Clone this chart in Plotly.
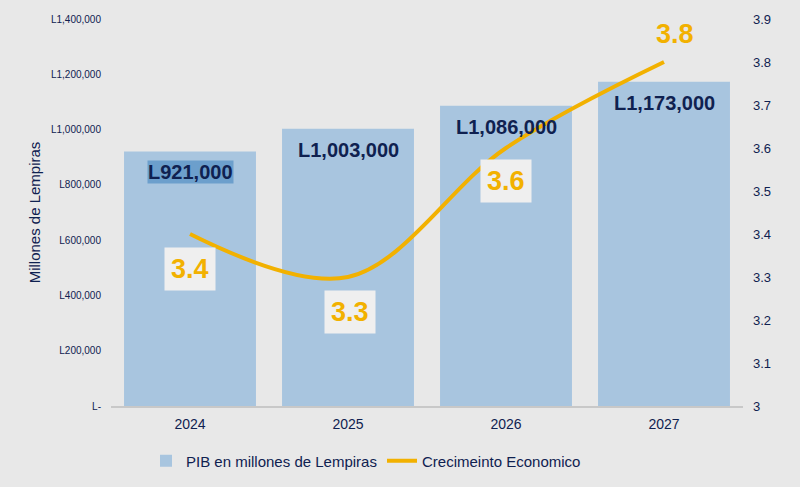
import plotly.graph_objects as go

years = ["2024", "2025", "2026", "2027"]
pib = [921000, 1003000, 1086000, 1173000]
pib_labels = ["L921,000", "L1,003,000", "L1,086,000", "L1,173,000"]
growth = [3.4, 3.3, 3.6, 3.8]
left_tickvals = [0, 200000, 400000, 600000, 800000, 1000000, 1200000, 1400000]
left_ticktext = ["L-", "L200,000", "L400,000", "L600,000", "L800,000",
                 "L1,000,000", "L1,200,000", "L1,400,000"]
right_tickvals = [3.0, 3.1, 3.2, 3.3, 3.4, 3.5, 3.6, 3.7, 3.8, 3.9]
right_ticktext = ["3", "3.1", "3.2", "3.3", "3.4", "3.5", "3.6", "3.7", "3.8", "3.9"]

NAVY = "#0f2150"
GOLD = "#f2b100"
BAR = "#a8c5df"
BG = "#e8e8e8"
FONT = "Liberation Sans, Arial, sans-serif"

fig = go.Figure()
fig.add_trace(go.Bar(x=years, y=pib, name="PIB en millones de Lempiras",
                     marker=dict(color=BAR, line=dict(width=0)), yaxis="y", legend="legend"))
fig.add_trace(go.Scatter(x=years, y=growth, name="Crecimeinto Economico",
                         mode="lines", line=dict(color=GOLD, width=4, shape="spline", smoothing=1.0),
                         yaxis="y2", legend="legend2"))

ann = []
for i, (v, lab) in enumerate(zip(pib, pib_labels)):
    a = dict(x=i, y=v, xref="x", yref="y", text="<b>" + lab + "</b>", showarrow=False,
             yshift=-21, font=dict(size=20, color=NAVY, family=FONT))
    if i == 0:
        a.update(bgcolor="#6c9fcc", borderpad=0)
    ann.append(a)

gshift = [(0, -35, True), (2, -35, True), (0, -33, True), (11, 28, False)]
for i, (g, (xs, ys, box)) in enumerate(zip(growth, gshift)):
    a = dict(x=i, y=g, xref="x", yref="y2", text="<b>" + str(g) + "</b>", showarrow=False,
             xshift=xs, yshift=ys, font=dict(size=27, color=GOLD, family=FONT))
    if box:
        a.update(bgcolor="#efefef", borderpad=6)
    ann.append(a)

leg_common = dict(orientation="h", yref="container", y=(487 - 461) / 487, yanchor="middle",
                  xref="container", xanchor="left",
                  font=dict(size=15, color=NAVY, family=FONT), bgcolor="rgba(0,0,0,0)",
                  itemwidth=30, borderwidth=0)

fig.update_layout(
    width=800, height=487,
    margin=dict(l=111, r=57, t=17, b=81),
    paper_bgcolor=BG, plot_bgcolor=BG,
    font=dict(family=FONT, color=NAVY),
    bargap=0.165,
    showlegend=True,
    legend=dict(x=146 / 800, **leg_common),
    legend2=dict(x=382 / 800, **leg_common),
    xaxis=dict(type="category", range=[-0.5, 3.5], showgrid=False, showline=True,
               linecolor="#c8c8c8", linewidth=2, ticklabelstandoff=4,
               tickfont=dict(size=14, color=NAVY), ticks="", zeroline=False),
    yaxis=dict(range=[0, 1400000], tickvals=left_tickvals, ticktext=left_ticktext,
               showgrid=False, zeroline=False, showline=False, ticks="",
               ticklabelstandoff=9,
               tickfont=dict(size=10, color=NAVY),
               title=dict(text="Millones de Lempiras", font=dict(size=15, color=NAVY), standoff=6)),
    yaxis2=dict(range=[3.0, 3.9], tickvals=right_tickvals, ticktext=right_ticktext,
                overlaying="y", side="right", showgrid=False, zeroline=False, showline=False,
                ticks="", ticklabelstandoff=9, tickfont=dict(size=13, color=NAVY)),
    annotations=ann,
)

fig.write_html("out.html")
